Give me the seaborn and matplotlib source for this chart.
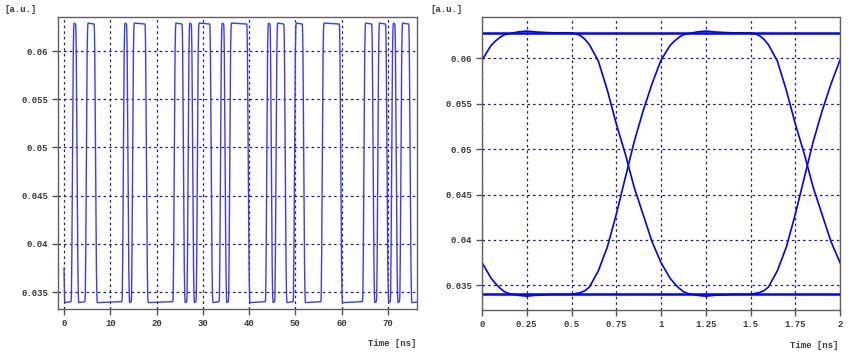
import pandas as pd
import matplotlib.pyplot as plt
import seaborn as sns

# one rising and one falling edge as seen in the eye diagram (time in ns, crossing ~0.82 ns)
edge_t = [0.50, 0.525, 0.55, 0.575, 0.60, 0.65, 0.70, 0.75, 0.80, 0.85, 0.90, 0.95,
          1.00, 1.05, 1.075, 1.10, 1.125, 1.15, 1.20, 1.25, 1.30, 1.40, 1.50]
rise_v = [0.0340, 0.0341, 0.0342, 0.0344, 0.0348, 0.0366, 0.0392, 0.0428, 0.0468, 0.0508,
          0.0542, 0.0572, 0.0598, 0.0614, 0.0619, 0.0623, 0.0626, 0.0627, 0.0629, 0.0630,
          0.0629, 0.0628, 0.0628]
fall_v = [0.0628, 0.0627, 0.0625, 0.0621, 0.0615, 0.0597, 0.0565, 0.0528, 0.0495, 0.0458,
          0.0428, 0.0398, 0.0375, 0.0358, 0.0352, 0.0347, 0.0343, 0.0341, 0.0339, 0.0338,
          0.0339, 0.0340, 0.0340]
high_level = 0.0628
low_level = 0.0340

# bit pattern of the time trace, 1 ns per bit (bit before t=0 was a one)
bits = "0010011000" "0001011100" "0000110101" "1100101111" "0000101100" \
       "1100001111" "0000011011" "010110"

y_ticks = [0.035, 0.04, 0.045, 0.05, 0.055, 0.06]
y_labels = ["0.035", "0.04", "0.045", "0.05", "0.055", "0.06"]
t_ticks = [0, 10, 20, 30, 40, 50, 60, 70]
eye_ticks = [0, 0.25, 0.5, 0.75, 1, 1.25, 1.5, 1.75, 2]
eye_labels = ["0", "0.25", "0.5", "0.75", "1", "1.25", "1.5", "1.75", "2"]

# build the time trace from the bits and the edge shapes
prev = 1
wt, wv = [], []
for k, b in enumerate(bits):
    b = int(b)
    if b != prev:
        shape = rise_v if b else fall_v
        for t, v in zip(edge_t, shape):
            if t <= 1.2:
                wt.append(t + k - 1)
                wv.append(v)
    prev = b
wt.append(len(bits) + 1)
wv.append(high_level if prev else low_level)
sig = pd.DataFrame({"t": wt, "v": wv})
sig = sig[sig["t"] >= 0]

# eye: the same edges folded over two bit periods
rows = []
for shift in (-1, 0, 1):
    for name, vals in (("rise", rise_v), ("fall", fall_v)):
        for t, v in zip(edge_t, vals):
            rows.append((f"{name}{shift}", t + shift, v))
eye = pd.DataFrame(rows, columns=["trace", "t", "v"])

sns.set_style("white")
plt.rcParams["font.family"] = ["Liberation Mono", "DejaVu Sans Mono"]

fig = plt.figure(figsize=(8.5, 3.55), dpi=100)
ax1 = fig.add_axes([58 / 850, 1 - 309 / 355, 359 / 850, 292 / 355])
ax2 = fig.add_axes([482 / 850, 1 - 310 / 355, 358 / 850, 293 / 355])

sns.lineplot(data=sig, x="t", y="v", sort=False, estimator=None,
             color="#3a3aff", lw=1.0, ax=ax1)
sns.lineplot(data=eye, x="t", y="v", units="trace", estimator=None, sort=False,
             color="#0000ff", lw=1.2, ax=ax2)
ax2.axhline(high_level, color="#0000ff", lw=1.8)
ax2.axhline(low_level, color="#0000ff", lw=1.8)

ax1.set_xlim(-1.3, 76.3)
ax1.set_ylim(0.03324, 0.06353)
ax1.set_xticks(t_ticks)
ax2.set_xlim(0, 2)
ax2.set_ylim(0.03228, 0.06455)
ax2.set_xticks(eye_ticks)
ax2.set_xticklabels(eye_labels)

for ax in (ax1, ax2):
    ax.set_yticks(y_ticks)
    ax.set_yticklabels(y_labels)
    ax.set_xlabel("")
    ax.set_ylabel("")
    ax.grid(True, color="#1a1a8c", linestyle=(0, (2, 2.5)), lw=0.9)
    ax.set_axisbelow(True)
    ax.tick_params(direction="out", length=4, width=1, color="#555555",
                   labelsize=6.5, labelcolor="#3a3a3a", pad=3,
                   left=True, bottom=True)
    for lab in ax.get_xticklabels() + ax.get_yticklabels():
        lab.set_fontweight("bold")
    for s in ax.spines.values():
        s.set_color("#606060")
        s.set_linewidth(1.0)

txt = dict(fontsize=6.5, color="#3a3a3a", va="center", fontweight="bold")
fig.text(4 / 850, 1 - 9 / 355, "[a.u.]", **txt)
fig.text(430 / 850, 1 - 10 / 355, "[a.u.]", **txt)
fig.text(416 / 850, 1 - 344 / 355, "Time [ns]", ha="right", **txt)
fig.text(838 / 850, 1 - 345 / 355, "Time [ns]", ha="right", **txt)

fig.savefig("out.png", dpi=100)
